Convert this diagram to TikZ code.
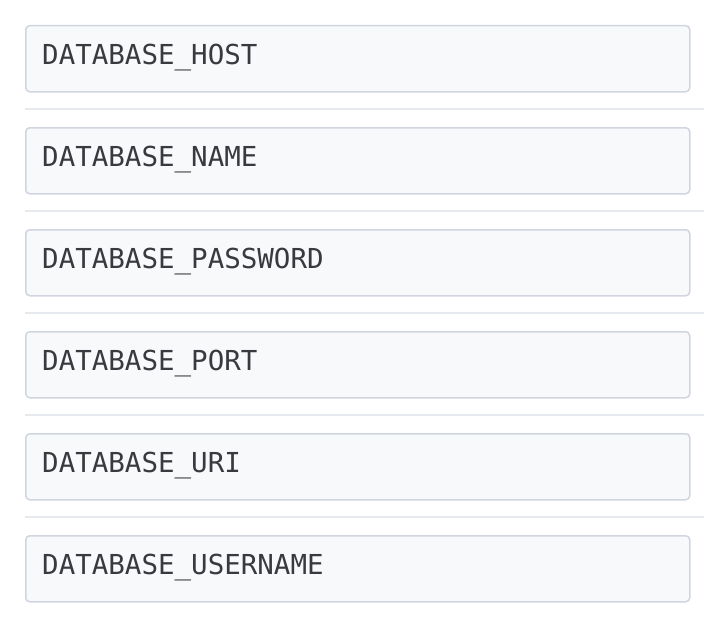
\documentclass[tikz,border=0pt]{standalone}
\usepackage{fontspec}
\setmonofont{DejaVu Sans Mono}
\definecolor{boxfill}{HTML}{F8F9FB}
\definecolor{boxline}{HTML}{D0D5DF}
\definecolor{sepline}{HTML}{E6E9EE}
\definecolor{txt}{HTML}{383A3F}
\begin{document}
\begin{tikzpicture}[x=1pt,y=-1pt,
  field/.style={draw=boxline,line width=1.5pt,fill=boxfill,rounded corners=4pt,minimum width=664pt,minimum height=66pt,anchor=north west,inner sep=0pt},
  lbl/.style={anchor=west,text=txt,font=\ttfamily\fontsize{27.5}{30}\selectfont,inner sep=0pt},
  sep/.style={draw=sepline,line width=1.5pt}]
\useasboundingbox (0,0) rectangle (704,618);
\foreach \t [count=\i from 0] in {DATABASE\_HOST,DATABASE\_NAME,DATABASE\_PASSWORD,DATABASE\_PORT,DATABASE\_URI,DATABASE\_USERNAME}{
  \node[field] (b\i) at (25,{25+102*\i}) {};
  \node[lbl] (t\i) at (42,{58+102*\i}) {\t};
}
\foreach \i in {0,...,4}{
  \coordinate (s\i a) at (25,{109+102*\i});
  \coordinate (s\i b) at (704,{109+102*\i});
  \draw[sep] (s\i a) -- (s\i b);
}
\end{tikzpicture}
\end{document}
